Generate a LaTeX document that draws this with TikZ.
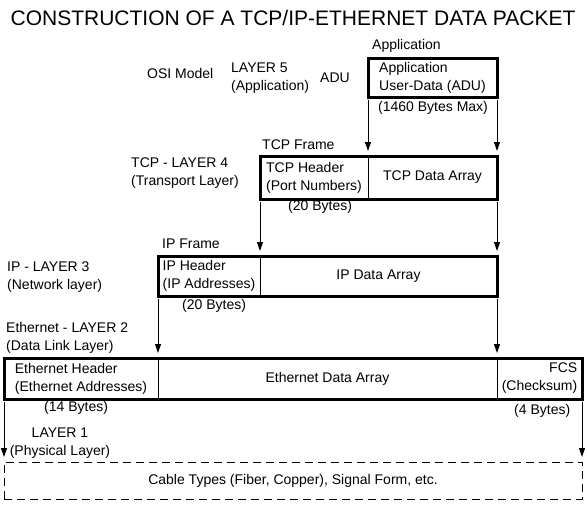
\documentclass[tikz,border=0pt]{standalone}
\usepackage{fontspec}
\setmainfont{Liberation Sans}
\usetikzlibrary{arrows.meta}
\tikzset{
lbl/.style={inner sep=0pt,align=left,anchor=west},
cell/.style={draw,line width=1pt,align=left,inner sep=0pt,outer sep=0pt,anchor=north west},
frame/.style={line width=3pt},
down/.style={-{Triangle[length=9pt,width=6pt]},line width=1pt,shorten <=3pt,shorten >=5pt}
}
\begin{document}
\begin{tikzpicture}[x=1pt,y=-1pt,font=\fontsize{14}{18}\selectfont]
\useasboundingbox (0,0) rectangle (585,504);
\path (293,18) node[font=\fontsize{21}{25}\selectfont](title){CONSTRUCTION OF A TCP/IP-ETHERNET DATA PACKET};

% layer 5
\path (372,46) node[lbl](app){Application};
\path (147,73) node[lbl](osi){OSI Model};
\path (231,78) node[lbl](l5){LAYER 5\\(Application)};
\path (320,78) node[lbl](adulbl){ADU};
\path (368,58) node[cell,frame,minimum width=129,minimum height=39](adu){Application\\User-Data (ADU)};
\path (378,108) node[lbl](adub){(1460 Bytes Max)};

% layer 4
\path (262,145) node[lbl](tcpfr){TCP Frame};
\path (131,173) node[lbl](l4){TCP - LAYER 4\\(Transport Layer)};
\path (260,156) node[cell,minimum width=108,minimum height=43](tcph){TCP Header\\(Port Numbers)};
\path (tcph.north east) node[cell,minimum width=129,minimum height=43](tcpd){TCP Data Array};
\draw[frame] (tcph.north west) rectangle (tcpd.south east);
\path (288,207) node[lbl](tcpb){(20 Bytes)};

% layer 3
\path (162,244) node[lbl](ipfr){IP Frame};
\path (7,277) node[lbl](l3){IP - LAYER 3\\(Network layer)};
\path (158,256) node[cell,minimum width=102,minimum height=40](iph){IP Header\\(IP Addresses)};
\path (iph.north east) node[cell,minimum width=237,minimum height=40](ipd){IP Data Array};
\draw[frame] (iph.north west) rectangle (ipd.south east);
\path (182,306) node[lbl](ipb){(20 Bytes)};

% layer 2
\path (6,338) node[lbl](l2){Ethernet - LAYER 2\\(Data Link Layer)};
\path (4,358) node[cell,minimum width=154,minimum height=41](ethh){Ethernet Header\\(Ethernet Addresses)};
\path (ethh.north east) node[cell,minimum width=339,minimum height=41](ethd){Ethernet Data Array};
\path (ethd.north east) node[cell,align=right,minimum width=85,minimum height=41](fcs){FCS\\(Checksum)};
\draw[frame] (ethh.north west) rectangle (fcs.south east);
\path (44,408) node[lbl](ethb){(14 Bytes)};
\path (514,411) node[lbl](fcsb){(4 Bytes)};

% layer 1
\path (60,443) node[align=center,inner sep=0pt](l1){LAYER 1\\(Physical Layer)};
\path (4,462) node[cell,dash pattern=on 8pt off 5pt,minimum width=578,minimum height=37](cable){Cable Types (Fiber, Copper), Signal Form, etc.};

\foreach \s/\t in {adu.south west/tcph.north east,adu.south east/tcpd.north east,
  tcph.south west/iph.north east,tcpd.south east/ipd.north east,
  iph.south west/ethh.north east,ipd.south east/ethd.north east,
  ethh.south west/cable.north west,fcs.south east/cable.north east}
{
	\draw[down] (\s) -- (\t);
}

\end{tikzpicture}
\end{document}
